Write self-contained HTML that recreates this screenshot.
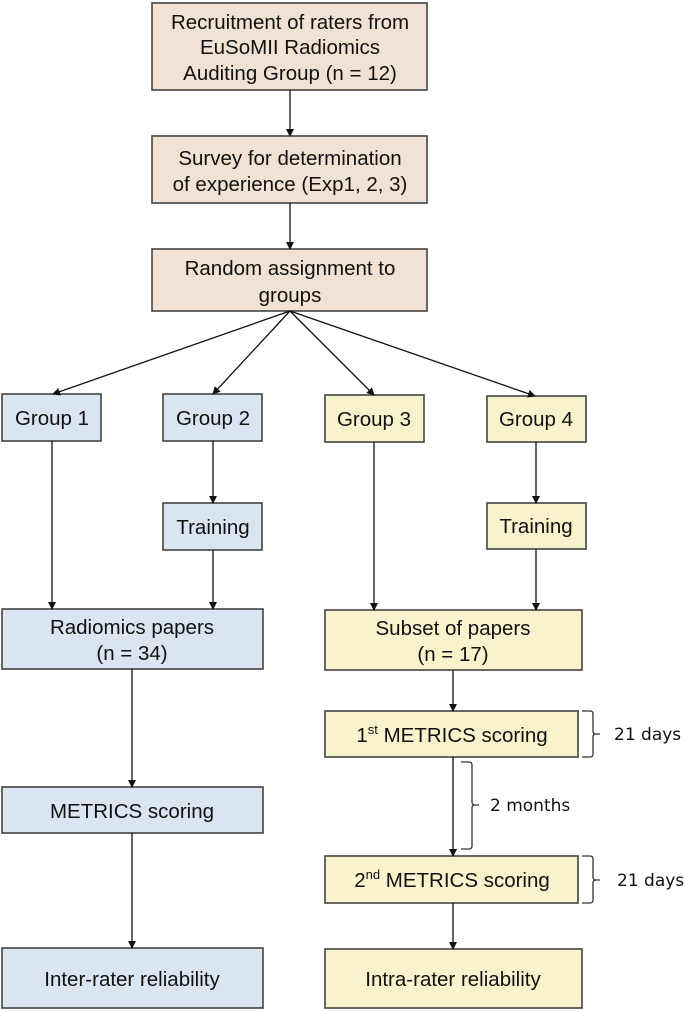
<!DOCTYPE html>
<html><head><meta charset="utf-8"><style>
html,body{margin:0;padding:0;background:#fff;}
svg{display:block;}
text{font-family:"Liberation Sans",Arial,sans-serif;font-size:20.5px;fill:#111;}
.b{font-family:"DejaVu Sans","Liberation Sans",sans-serif;font-size:17px;}
</style></head><body>
<svg width="685" height="1012" viewBox="0 0 685 1012" xmlns="http://www.w3.org/2000/svg">
<defs><marker id="a" markerWidth="8" markerHeight="8" refX="7" refY="4" orient="auto" markerUnits="userSpaceOnUse"><path d="M0,0 L8,4 L0,8 z" fill="#111"/></marker></defs>
<g stroke="#444" stroke-width="1.6">
<rect x="152" y="3" width="275" height="87" fill="#f2e2d3"/>
<rect x="152" y="136" width="275" height="67" fill="#f2e2d3"/>
<rect x="152" y="249" width="275" height="62" fill="#f2e2d3"/>
<rect x="2" y="394" width="99" height="47" fill="#dbe4f1"/>
<rect x="163" y="394" width="99" height="47" fill="#dbe4f1"/>
<rect x="325" y="395" width="99" height="47" fill="#f8f3cd"/>
<rect x="487" y="396" width="99" height="46" fill="#f8f3cd"/>
<rect x="163" y="503" width="99" height="47" fill="#dbe4f1"/>
<rect x="487" y="503" width="99" height="46" fill="#f8f3cd"/>
<rect x="2" y="609" width="261" height="60" fill="#dbe4f1"/>
<rect x="325" y="610" width="257" height="60" fill="#f8f3cd"/>
<rect x="2" y="787" width="261" height="46" fill="#dbe4f1"/>
<rect x="325" y="711" width="253" height="46" fill="#f8f3cd"/>
<rect x="325" y="856" width="253" height="47" fill="#f8f3cd"/>
<rect x="2" y="948" width="261" height="60" fill="#dbe4f1"/>
<rect x="325" y="949" width="257" height="59" fill="#f8f3cd"/>
</g>
<g stroke="#111" stroke-width="1.3" fill="none" marker-end="url(#a)">
<line x1="290" y1="90" x2="290" y2="136"/>
<line x1="290" y1="203" x2="290" y2="249"/>
<line x1="290" y1="311" x2="53" y2="394"/>
<line x1="290" y1="311" x2="213" y2="394"/>
<line x1="290" y1="311" x2="374" y2="395"/>
<line x1="290" y1="311" x2="535" y2="396"/>
<line x1="52" y1="441" x2="52" y2="609"/>
<line x1="213" y1="441" x2="213" y2="503"/>
<line x1="213" y1="550" x2="213" y2="609"/>
<line x1="374" y1="442" x2="374" y2="610"/>
<line x1="536" y1="442" x2="536" y2="503"/>
<line x1="536" y1="549" x2="536" y2="610"/>
<line x1="132" y1="669" x2="132" y2="787"/>
<line x1="132" y1="833" x2="132" y2="948"/>
<line x1="453" y1="670" x2="453" y2="711"/>
<line x1="453" y1="757" x2="453" y2="856"/>
<line x1="453" y1="903" x2="453" y2="949"/>
</g>
<g stroke="#333" stroke-width="1.3" fill="none">
<path d="M582,711 h8 q3,0 3,3 v17 q0,3 3,3 h4 M596,734 q-3,0 -3,3 v17 q0,3 -3,3 h-8"/>
<path d="M461,762 h8 q3,0 3,3 v37 q0,3 3,3 h4 M475,805 q-3,0 -3,3 v38 q0,3 -3,3 h-8"/>
<path d="M582,856 h8 q3,0 3,3 v18 q0,3 3,3 h4 M596,880 q-3,0 -3,3 v17 q0,3 -3,3 h-8"/>
</g>
<g text-anchor="middle">
<text x="290" y="29">Recruitment of raters from</text>
<text x="290" y="54">EuSoMII Radiomics</text>
<text x="290" y="80">Auditing Group (n = 12)</text>
<text x="290" y="165">Survey for determination</text>
<text x="290" y="191">of experience (Exp1, 2, 3)</text>
<text x="290" y="275">Random assignment to</text>
<text x="290" y="302">groups</text>
<text x="52" y="425">Group 1</text>
<text x="213" y="425">Group 2</text>
<text x="374" y="426">Group 3</text>
<text x="536" y="426">Group 4</text>
<text x="213" y="534">Training</text>
<text x="536" y="533">Training</text>
<text x="132" y="634">Radiomics papers</text>
<text x="132" y="660">(n = 34)</text>
<text x="453" y="635">Subset of papers</text>
<text x="453" y="661">(n = 17)</text>
<text x="132" y="818">METRICS scoring</text>
<text x="452" y="742">1<tspan font-size="13" dy="-8">st</tspan><tspan dy="8"> METRICS scoring</tspan></text>
<text x="452" y="887">2<tspan font-size="13" dy="-8">nd</tspan><tspan dy="8"> METRICS scoring</tspan></text>
<text x="132" y="986">Inter-rater reliability</text>
<text x="453" y="986">Intra-rater reliability</text>
</g>
<text class="b" x="614" y="740">21 days</text>
<text class="b" x="490" y="811">2 months</text>
<text class="b" x="617" y="886">21 days</text>
</svg>
</body></html>
